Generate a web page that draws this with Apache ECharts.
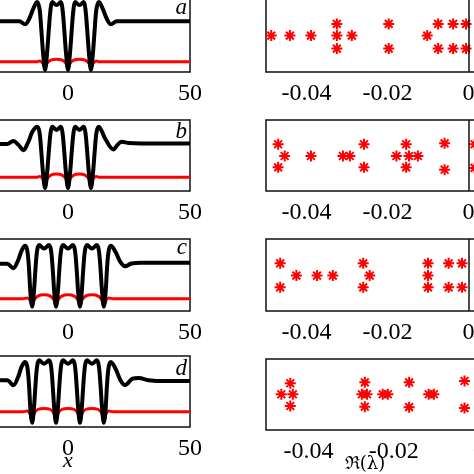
<!DOCTYPE html>
<html><head><meta charset="utf-8">
<script src="https://cdn.jsdelivr.net/npm/echarts@6/dist/echarts.min.js"></script>
<style>html,body{margin:0;padding:0;background:#fff}#c{width:474px;height:474px}</style>
</head><body><div id="c"></div>
<script>
// ---- data ----
const panelLabels = ['a', 'b', 'c', 'd'];
const leftTickValues = [-50, 0, 50];
const rightTickValues = ['-0.04', '-0.02', '0'];

const blackA = [[-50,0.685],[-20,0.685],[-17.6,0.644],[-16,0.712],[-14.3,0.849],[-12.7,0.945],[-11.7,0.86],[-11,0.6],[-10.2,0.25],[-9.4,0.027],[-8.6,0.25],[-7.8,0.6],[-7.1,0.86],[-6.4,0.945],[-4.7,0.904],[-3.0,0.945],[-2.3,0.86],[-1.6,0.6],[-0.8,0.25],[0,0.027],[0.8,0.25],[1.6,0.6],[2.3,0.86],[3.0,0.945],[4.7,0.904],[6.4,0.945],[7.1,0.86],[7.8,0.6],[8.6,0.25],[9.4,0.027],[10.2,0.25],[11,0.6],[11.7,0.86],[12.7,0.945],[14.3,0.849],[16,0.712],[17.6,0.644],[20,0.685],[50,0.685]];
const redA = [[-50,0.137],[-13,0.137],[-11.5,0.15],[-10.3,0.115],[-9.4,0.055],[-8.5,0.12],[-7,0.16],[-4.7,0.172],[-2.4,0.16],[-0.9,0.12],[0,0.055],[0.9,0.12],[2.4,0.16],[4.7,0.172],[7,0.16],[8.5,0.12],[9.4,0.055],[10.3,0.115],[11.5,0.15],[13,0.137],[50,0.137]];

const blackB = [[-50,0.662],[-25,0.662],[-22.4,0.705],[-20.3,0.65],[-18.3,0.575],[-16.4,0.68],[-14.5,0.84],[-12.6,0.905],[-11.7,0.83],[-11,0.58],[-10.2,0.24],[-9.4,0.042],[-8.6,0.24],[-7.8,0.58],[-7.1,0.83],[-6.4,0.905],[-4.7,0.86],[-3.0,0.905],[-2.3,0.83],[-1.6,0.58],[-0.8,0.24],[0,0.042],[0.8,0.24],[1.6,0.58],[2.3,0.83],[3.0,0.905],[4.7,0.86],[6.4,0.905],[7.1,0.83],[7.8,0.58],[8.6,0.24],[9.4,0.042],[10.2,0.24],[11,0.58],[11.7,0.83],[12.6,0.905],[15.2,0.74],[18.6,0.585],[20.3,0.65],[22,0.695],[25,0.675],[30,0.669],[50,0.669]];
const redB = [[-50,0.193],[-13,0.193],[-11.5,0.205],[-10.3,0.17],[-9.4,0.066],[-8.5,0.175],[-7,0.225],[-4.7,0.238],[-2.4,0.225],[-0.9,0.175],[0,0.066],[0.9,0.175],[2.4,0.225],[4.7,0.238],[7,0.225],[8.5,0.175],[9.4,0.066],[10.3,0.17],[11.5,0.205],[13,0.193],[50,0.193]];

const blackC = [[-50,0.655],[-25,0.655],[-22.4,0.595],[-20.5,0.70],[-19,0.84],[-17.6,0.905],[-16.7,0.84],[-16,0.6],[-15.4,0.25],[-14.7,0.06],[-14,0.25],[-13.3,0.6],[-12.6,0.85],[-11.8,0.917],[-9.8,0.868],[-7.8,0.917],[-7,0.85],[-6.3,0.6],[-5.6,0.25],[-4.9,0.06],[-4.2,0.25],[-3.5,0.6],[-2.8,0.85],[-2.0,0.917],[0,0.868],[2.0,0.917],[2.8,0.85],[3.5,0.6],[4.2,0.25],[4.9,0.06],[5.6,0.25],[6.3,0.6],[7,0.85],[7.8,0.917],[9.8,0.868],[11.8,0.917],[12.6,0.85],[13.3,0.6],[14,0.25],[14.7,0.06],[15.4,0.25],[16,0.6],[16.7,0.84],[17.6,0.905],[19.5,0.82],[21.5,0.68],[23.4,0.62],[26,0.66],[30,0.67],[50,0.67]];
const redC = [[-50,0.171],[-18.5,0.171],[-16.8,0.18],[-15.6,0.15],[-14.7,0.069],[-13.8,0.155],[-12.2,0.21],[-9.8,0.225],[-7.4,0.21],[-5.8,0.155],[-4.9,0.069],[-4,0.155],[-2.4,0.21],[0,0.225],[2.4,0.21],[4,0.155],[4.9,0.069],[5.8,0.155],[7.4,0.21],[9.8,0.225],[12.2,0.21],[13.8,0.155],[14.7,0.069],[15.6,0.15],[16.8,0.18],[18.5,0.171],[50,0.171]];

const blackD = [[-50,0.658],[-25,0.658],[-22.4,0.587],[-20.5,0.70],[-19,0.85],[-17.6,0.915],[-16.7,0.85],[-16,0.6],[-15.4,0.25],[-14.7,0.06],[-14,0.25],[-13.3,0.6],[-12.6,0.87],[-11.8,0.939],[-9.8,0.892],[-7.8,0.939],[-7,0.87],[-6.3,0.6],[-5.6,0.25],[-4.9,0.06],[-4.2,0.25],[-3.5,0.6],[-2.8,0.87],[-2.0,0.939],[0,0.892],[2.0,0.939],[2.8,0.87],[3.5,0.6],[4.2,0.25],[4.9,0.06],[5.6,0.25],[6.3,0.6],[7,0.87],[7.8,0.939],[9.8,0.892],[11.8,0.939],[12.6,0.87],[13.3,0.6],[14,0.25],[14.7,0.06],[15.4,0.25],[16,0.6],[16.7,0.85],[17.6,0.915],[19.5,0.82],[21.5,0.66],[23.4,0.59],[26.5,0.68],[29,0.69],[33,0.66],[40,0.648],[50,0.648]];
const redD = [[-50,0.215],[-18.5,0.215],[-16.8,0.225],[-15.6,0.19],[-14.7,0.07],[-13.8,0.195],[-12.2,0.25],[-9.8,0.262],[-7.4,0.25],[-5.8,0.195],[-4.9,0.07],[-4,0.195],[-2.4,0.25],[0,0.262],[2.4,0.25],[4,0.195],[4.9,0.07],[5.8,0.195],[7.4,0.25],[9.8,0.262],[12.2,0.25],[13.8,0.195],[14.7,0.07],[15.6,0.19],[16.8,0.225],[18.5,0.215],[50,0.215]];

const starsA = [[-0.0487,-0.05],[-0.0441,-0.05],[-0.0389,-0.05],[-0.0325,0.9],[-0.0325,-0.05],[-0.0325,-1.1],[-0.0288,-0.05],[-0.0197,0.9],[-0.0197,-1.1],[-0.0102,-0.05],[-0.0075,0.9],[-0.0075,-1.1],[-0.0038,0.9],[-0.0038,-1.1],[-0.0006,0.9],[-0.0006,-1.1]];
const starsB = [[-0.0470,0.95],[-0.0470,-1.0],[-0.0454,-0.04],[-0.0389,-0.04],[-0.0310,-0.04],[-0.0293,-0.04],[-0.0258,0.95],[-0.0258,-1.0],[-0.0178,-0.04],[-0.0154,0.95],[-0.0154,-1.0],[-0.0147,-0.04],[-0.0125,-0.04],[-0.0059,1.03],[-0.0059,-1.2],[0.0015,0.95],[0.0015,-1.05]];
const starsC = [[-0.0465,0.97],[-0.0465,-1.03],[-0.0425,-0.05],[-0.0374,-0.05],[-0.0335,-0.05],[-0.0260,0.97],[-0.0260,-1.03],[-0.0244,-0.05],[-0.0100,0.97],[-0.0100,-0.05],[-0.0100,-1.03],[-0.0049,0.97],[-0.0049,-1.03],[-0.0016,0.97],[-0.0016,-1.03]];
const starsD = [[-0.0443,0.95],[-0.0443,-0.97],[-0.0464,0.02],[-0.0437,0.02],[-0.0268,1.03],[-0.0268,-1.03],[-0.0275,0.02],[-0.0263,0.02],[-0.0226,0.02],[-0.0214,0.02],[-0.0164,1.03],[-0.0164,-1.07],[-0.0118,0.02],[-0.0106,0.02],[-0.0034,1.14],[-0.0034,-1.15]];

// ---- layout ----
const blacks = [blackA, blackB, blackC, blackD];
const reds = [redA, redB, redC, redD];
const stars = [starsA, starsB, starsC, starsD];
const leftTops = [-2, 120, 239, 356];
const leftH = [74, 71, 72, 71];
const rightTops = [-2, 120, 239, 359];
const rightW = [243, 243, 243, 255.6];
const FONT = 'Liberation Serif';
const STAR = 'path://M0,-10L0,10M-10,0L10,0M-7.07,-7.07L7.07,7.07M-7.07,7.07L7.07,-7.07';

const grid = [], xAxis = [], yAxis = [], series = [], graphic = [];
const frame = {show: true, borderColor: '#111', borderWidth: 1.5, backgroundColor: 'transparent', containLabel: false, outerBoundsMode: 'none'};
const labelStyle = {color: '#000', fontFamily: FONT, fontSize: 24, margin: 10};

for (let i = 0; i < 4; i++) {
  grid.push(Object.assign({left: -54, top: leftTops[i], width: 244, height: leftH[i]}, frame));
  xAxis.push({gridIndex: i, type: 'value', min: -50, max: 50, interval: 50,
    axisLine: {show: false}, axisTick: {show: false}, splitLine: {show: false},
    axisLabel: Object.assign({formatter: v => leftTickValues.includes(v) ? String(v) : ''}, labelStyle)});
  yAxis.push({gridIndex: i, type: 'value', min: 0, max: 1, show: false});
  series.push({type: 'line', xAxisIndex: i, yAxisIndex: i, data: reds[i], showSymbol: false, smooth: 0.35,
    lineStyle: {color: '#ff0000', width: 3}, z: 2, animation: false});
  series.push({type: 'line', xAxisIndex: i, yAxisIndex: i, data: blacks[i], showSymbol: false, smooth: 0.35,
    lineStyle: {color: '#000', width: 4}, z: 3, animation: false});
}
for (let i = 0; i < 4; i++) {
  const g = 4 + i;
  grid.push(Object.assign({left: 266, top: rightTops[i], width: rightW[i], height: leftH[i]}, frame));
  xAxis.push({gridIndex: g, type: 'value', min: -0.05, max: 0.01, interval: 0.01,
    axisLine: {show: false}, axisTick: {show: false}, splitLine: {show: false},
    axisLabel: Object.assign({formatter: v => {
      const s = (Math.round(v * 100) === 0) ? '0' : (v).toFixed(2);
      return rightTickValues.includes(s) ? s : '';
    }}, labelStyle)});
  yAxis.push({gridIndex: g, type: 'value', min: -3, max: 3, show: false});
  series.push({type: 'scatter', xAxisIndex: g, yAxisIndex: g, data: stars[i], symbol: STAR, symbolSize: 11,
    itemStyle: {color: 'rgba(0,0,0,0)', borderColor: '#ff0000', borderWidth: 2, opacity: 1}, animation: false, z: 4,
    markLine: {symbol: ['none', 'none'], silent: true, animation: false, label: {show: false},
      lineStyle: {color: '#111', width: 1.5, type: 'solid'}, data: [{xAxis: 0}]}});
}

const letterY = [7.5, 131.5, 247.5, 368.5];
panelLabels.forEach((t, i) => {
  graphic.push({type: 'text', x: 187, y: letterY[i], z: 10,
    style: {text: t, font: 'italic 23px "Liberation Serif"', fill: '#000', align: 'right', textAlign: 'right', verticalAlign: 'middle', textVerticalAlign: 'middle'}});
});
graphic.push({type: 'text', x: 68, y: 461, z: 10,
  style: {text: 'x', font: 'italic 22px "Liberation Serif"', fill: '#000', align: 'center', textAlign: 'center', verticalAlign: 'middle', textVerticalAlign: 'middle'}});
graphic.push({type: 'text', x: 365, y: 464, z: 10,
  style: {text: 'ℜ(λ)', font: '18px "DejaVu Serif"', fill: '#000', align: 'center', textAlign: 'center', verticalAlign: 'middle', textVerticalAlign: 'middle'}});

const chart = echarts.init(document.getElementById('c'), null, {renderer: 'canvas'});
chart.setOption({animation: false, backgroundColor: '#fff', grid, xAxis, yAxis, series, graphic});
</script></body></html>
